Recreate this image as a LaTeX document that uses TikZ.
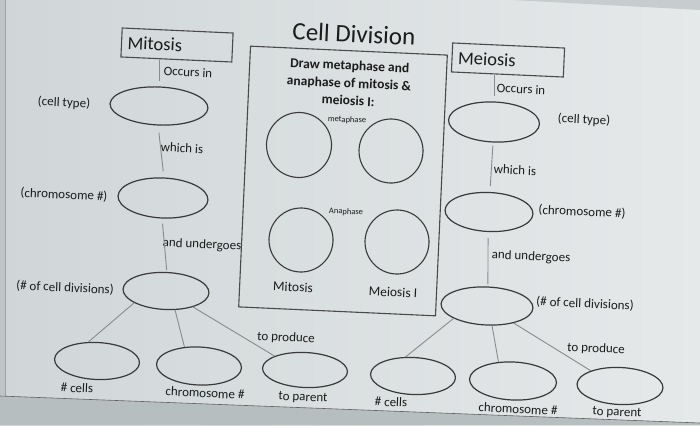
\documentclass[tikz,border=0pt]{standalone}
\usepackage{fontspec}
\setmainfont{Carlito}
\usetikzlibrary{shapes.geometric}
\definecolor{ink}{HTML}{1C1C1C}
\definecolor{ovl}{HTML}{3A3A3A}
\definecolor{lnk}{HTML}{8A8A8A}
\definecolor{boxc}{HTML}{4A4A4A}
\definecolor{pageL}{HTML}{D0D6D8}
\definecolor{pageR}{HTML}{E6E9EA}
\definecolor{botc}{HTML}{B6BEBF}
\definecolor{topc}{HTML}{C7CDCE}
\begin{document}
\begin{tikzpicture}[x=1pt,y=-1pt,
  every node/.style={rotate=-2.6, text=ink},
  oval/.style={draw=ovl, line width=1.2pt, ellipse, inner sep=0pt},
  circ/.style={draw=ovl, line width=1.1pt, circle, inner sep=0pt, minimum size=64pt},
  lbl/.style={font=\fontsize{13}{15}\selectfont, inner sep=0pt},
  tiny/.style={font=\fontsize{8.5}{10}\selectfont, inner sep=0pt},
  conn/.style={draw=lnk, line width=0.9pt},
  headbox/.style={draw=boxc, line width=1.1pt, rectangle, minimum height=29pt,
    align=left, inner xsep=6pt, inner ysep=0pt, font=\fontsize{18.5}{20}\selectfont}
]
\useasboundingbox (0,0) rectangle (700,425);
% background
\fill[left color=pageL, right color=pageR] (0,0) rectangle (700,425);
\fill[topc] (512,0) -- (700,0) -- (700,10) -- cycle;
\fill[pageL!92!black] (0,0) rectangle (5,396);
\draw[color=lnk!80, line width=0.6pt] (5,0) -- (5,396);
\fill[botc] (0,396) -- (700,423) -- (700,425) -- (0,425) -- cycle;
\draw[color=lnk!70!black, line width=0.6pt] (0,396) -- (700,423);

% title
\node[font=\fontsize{25}{28}\selectfont, inner sep=0pt] (title) at (354,34) {Cell Division};

% ---------- Mitosis ----------
\node[headbox, text width=99pt] (mbox) at (177,45) {Mitosis};
\node[oval, minimum width=98pt, minimum height=38pt] (mcell) at (159,106) {};
\node[oval, minimum width=90pt, minimum height=40pt] (mchr) at (163,198) {};
\node[oval, minimum width=86pt, minimum height=37pt] (mdiv) at (166,291) {};
\node[oval, minimum width=85pt, minimum height=37pt] (mcells) at (97,361) {};
\node[oval, minimum width=85pt, minimum height=38pt] (mchrn) at (199,366) {};
\node[oval, minimum width=85pt, minimum height=35pt] (mpar) at (305,370) {};

\node[lbl] (mocc) at (188,72) {Occurs in};
\node[lbl] (mct) at (64,103) {(cell type)};
\node[lbl] (mwhich) at (182,148) {which is};
\node[lbl] (mcn) at (64,195) {(chromosome \#)};
\node[lbl] (mund) at (202,245) {and undergoes};
\node[lbl] (mcd) at (65,288) {(\# of cell divisions)};
\node[lbl] (mprod) at (286,338) {to produce};
\node[lbl] (mcl) at (77,388) {\# cells};
\node[lbl] (mchl) at (205,393) {chromosome \#};
\node[lbl] (mpl) at (303,398) {to parent};

\draw[conn, shorten >=5pt] (mbox.south -| mcell.north) -- (mcell.north);
\draw[conn, shorten <=7pt, shorten >=6pt] (mcell.south) -- (mchr.north);
\draw[conn, shorten <=5pt, shorten >=2pt] (mchr.south) -- (mdiv.north);
\draw[conn] (mdiv.203) -- (mcells.117);
\draw[conn] (mdiv.298) -- (mchrn.130);
\draw[conn] (mdiv.332) -- (mpar.158);

% ---------- centre frame ----------
\node[draw=boxc, line width=1.1pt, rectangle, minimum width=197pt, minimum height=261pt] (frame) at (343,181) {};
\node[font=\bfseries\fontsize{13.5}{17.5}\selectfont, align=center, inner sep=0pt] (instr) at (349,83)
  {Draw metaphase and\\anaphase of mitosis \&\\meiosis I:};
\node[tiny] (meta) at (347,120) {metaphase};
\node[tiny] (ana) at (346,212) {Anaphase};
\node[circ, minimum size=65pt] (mmet) at (299,145) {};
\node[circ] (emet) at (391,151) {};
\node[circ] (mana) at (301,240) {};
\node[circ] (eana) at (397,242) {};
\node[font=\fontsize{13.5}{15}\selectfont, inner sep=0pt] (mitl) at (293,287) {Mitosis};
\node[font=\fontsize{13.5}{15}\selectfont, inner sep=0pt] (meil) at (393,292) {Meiosis I};

% ---------- Meiosis ----------
\node[headbox, text width=100pt] (ebox) at (508,60) {Meiosis};
\node[oval, minimum width=91pt, minimum height=40pt] (ecell) at (494,122) {};
\node[oval, minimum width=88pt, minimum height=39pt] (echr) at (489,212) {};
\node[oval, minimum width=92pt, minimum height=38pt] (ediv) at (487,306) {};
\node[oval, minimum width=85pt, minimum height=37pt] (ecells) at (413,376) {};
\node[oval, minimum width=87pt, minimum height=38pt] (echrn) at (513,381) {};
\node[oval, minimum width=86pt, minimum height=37pt] (epar) at (620,386) {};

\node[lbl] (eocc) at (521,89) {Occurs in};
\node[lbl] (ect) at (584,120) {(cell type)};
\node[lbl] (ewhich) at (515,170) {which is};
\node[lbl] (ecn) at (582,212) {(chromosome \#)};
\node[lbl] (eund) at (531,257) {and undergoes};
\node[lbl] (ecd) at (585,304) {(\# of cell divisions)};
\node[lbl] (eprod) at (596,349) {to produce};
\node[lbl] (ecl) at (391,402) {\# cells};
\node[lbl] (echl) at (518,409) {chromosome \#};
\node[lbl] (epl) at (617,413) {to parent};

\draw[conn, shorten >=5pt] (ebox.south -| ecell.north) -- (ecell.north);
\draw[conn, shorten <=3pt, shorten >=6pt] (ecell.south) -- (echr.north);
\draw[conn, shorten <=6pt, shorten >=2pt] (echr.south) -- (ediv.north);
\draw[conn] (ediv.203) -- (ecells.114);
\draw[conn] (ediv.287) -- (echrn.130);
\draw[conn] (ediv.330) -- (epar.155);
\end{tikzpicture}
\end{document}
